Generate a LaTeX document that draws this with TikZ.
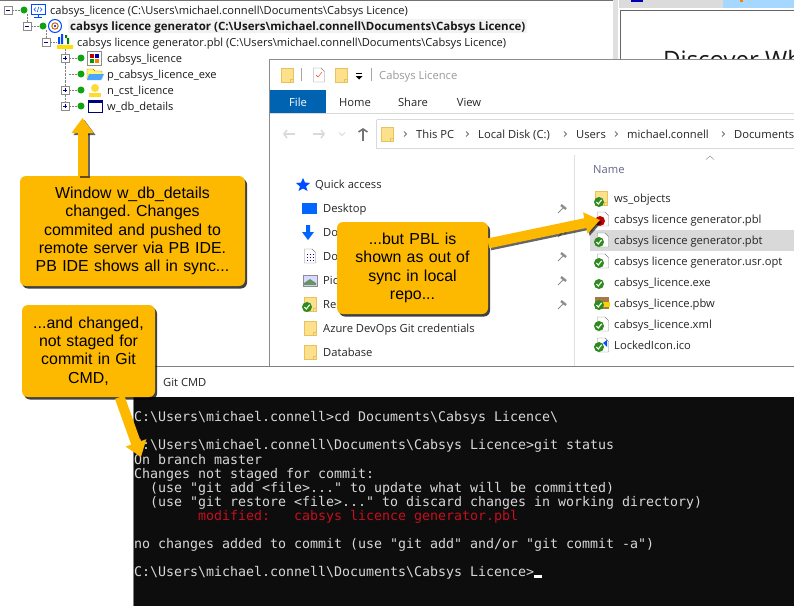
\documentclass[tikz,border=0pt]{standalone}
\usepackage{fontspec}
\setmainfont{Open Sans}
\newfontfamily\calloutfont{Liberation Sans}
\newfontfamily\consolefont{DejaVu Sans Mono}
\usetikzlibrary{arrows.meta,shadows}

\definecolor{calloutfill}{HTML}{FDB900}
\definecolor{treegreen}{HTML}{0FA30F}
\definecolor{folderfill}{HTML}{FCE08C}
\definecolor{folderedge}{HTML}{E8C25C}
\definecolor{ribbonblue}{HTML}{0063B1}
\definecolor{okgreen}{HTML}{2E8B1E}
\definecolor{consoletext}{HTML}{D8D8D8}
\definecolor{consolered}{HTML}{C50F1F}

\tikzset{
 treetext/.style={anchor=base west,inner sep=0pt,yshift=-3.7pt,font=\fontsize{11.1}{12}\selectfont,text=black!90},
 wintext/.style={anchor=base west,inner sep=0pt,yshift=-4.3pt,font=\fontsize{11.2}{13}\selectfont,text=black!85},
 context/.style={anchor=base west,inner sep=0pt,yshift=-4.7pt,font=\consolefont\fontsize{13.29}{14}\selectfont,text=consoletext},
 callout/.style={fill=calloutfill,rounded corners=6pt,align=center,inner sep=0pt,
   font=\calloutfont\frenchspacing\fontsize{15.9}{18.3}\selectfont,
   drop shadow={shadow xshift=2pt,shadow yshift=-2.5pt,fill=black,opacity=0.75}},
 calloutarrow/.style={line width=10pt,color=calloutfill,-{Triangle[width=21pt,length=15pt]}},
 arrowshade/.style={line width=10pt,color=black,opacity=0.6,-{Triangle[width=21pt,length=15pt]},
   transform canvas={xshift=2pt,yshift=-2pt}},
}

% tree and explorer pieces
\newcommand{\treebox}[3]{
 \draw[black!45,fill=white](#1-4,#2-4) rectangle (#1+4,#2+4);
 \draw[blue!50!black](#1-2,#2)--(#1+2,#2);
 \ifnum#3=1 \draw[blue!50!black](#1,#2-2)--(#1,#2+2);\fi
}
\newcommand{\treedot}[2]{
 \draw[black!50,densely dotted](#1-12,#2)--(#1-4,#2);
 \fill[treegreen](#1,#2) circle (3.5);
}
\newcommand{\foldericon}[2]{
 \draw[folderedge,fill=folderfill](#1-6,#2-7) rectangle (#1+6,#2+7);
 \draw[folderedge](#1+3,#2+7)--(#1+3,#2+4)--(#1+6,#2+4);
}
\newcommand{\fileicon}[2]{
 \draw[black!50,fill=white](#1-5.5,#2-7)--(#1+2,#2-7)--(#1+5.5,#2-3.5)--(#1+5.5,#2+7)--(#1-5.5,#2+7)--cycle;
}
\newcommand{\okbadge}[2]{
 \fill[okgreen](#1,#2) circle (5);
 \draw[white,line width=1.1pt](#1-2.5,#2)--(#1-0.7,#2+2)--(#1+2.7,#2-2.2);
}
\newcommand{\pinicon}[2]{
 \draw[black!45,line width=2.4pt](#1-2,#2-3)--(#1+3,#2+1);
 \draw[black!45,line width=1pt](#1,#2)--(#1-5,#2+5);
}
\newcommand{\bs}{\textbackslash}

\begin{document}
\begin{tikzpicture}[x=1pt,y=-1pt]
 \path[use as bounding box,clip](0,0) rectangle (794,606);
 \fill[white](0,0) rectangle (794,606);

 % the start page behind
 \draw[black!55](0,0.5)--(613,0.5);
 \fill[black!12](613,0) rectangle (618,60);
 \fill[black!14](619,0) rectangle (723,8);
 \fill[blue!45!cyan!35!white](723,0) rectangle (794,8);
 \fill[blue!70!black](631,0) rectangle (643,2);
 \fill[orange](740,0) rectangle (743,1.5);
 \draw[black!60,line width=1.5pt](620.5,60)--(620.5,10.5)--(794,10.5);
 \begin{scope}
  \clip(622,12) rectangle (794,59);
  \node[anchor=base west,inner sep=0pt,font=\fontsize{24}{28}\selectfont,text=black!90] (discover) at (663,68) {Discover Wh};
 \end{scope}

 % project tree
 \fill[black!5](68,19) rectangle (527,33);
 \draw[black!50,densely dotted](8,10)--(8,14) (27,14)--(27,26) (46,30)--(46,42) (65,46)--(65,106);
 \treebox{8}{10}{0}
 \treebox{27}{26}{0}
 \treebox{46}{42}{0}
 \treebox{65}{58}{1}
 \treebox{65}{90}{1}
 \treebox{65}{106}{1}
 \treedot{24}{10}
 \treedot{43}{26}
 \treedot{81}{58}
 \treedot{81}{74}
 \treedot{81}{90}
 \treedot{81}{106}
 \draw[black!50,densely dotted](50,42)--(57,42);

 \draw[blue!70!cyan,line width=1pt,fill=white](31,4.5) rectangle (45,14);
 \draw[blue!70!cyan,line width=1pt](34,17)--(42,17) (38,14)--(38,17);
 \draw[blue!70!cyan,line width=0.6pt](36,7.5)--(34,9.5)--(36,11.5) (40,7.5)--(42,9.5)--(40,11.5) (38.7,7)--(37.3,12);
 \draw[blue!70!cyan,line width=1pt,fill=white](55,26) circle (6.5);
 \draw[orange!80!black,line width=1pt](55,26) circle (3.2);
 \fill[blue!70!black](55,26) circle (1.2);
 \fill[blue!70!cyan](58,37) rectangle (60,44) (61,34) rectangle (63,44);
 \fill[green!50!black](65,35) rectangle (67,38) (67,38) rectangle (69,44);
 \fill[yellow!80!orange](57,45) rectangle (73,49);

 \draw[black!45,line width=1pt,fill=white](87.5,51.5) rectangle (101.5,65.5);
 \fill[red!75!black](90,54) rectangle (94,58);
 \fill[blue!70!black](95,54) rectangle (99,58);
 \fill[green!60!black](90,59) rectangle (94,63);
 \fill[orange](95,59) rectangle (99,63);
 \draw[orange!80!black,fill=yellow!60](87,69)--(93,69)--(95,71)--(102,71)--(102,79)--(87,79)--cycle;
 \fill[blue!50!cyan!70!white](89,74)--(104,74)--(101,80)--(87,80)--cycle;
 \fill[yellow!70!orange!80!white](95,88) circle (4);
 \fill[yellow!70!orange!80!white](89,97) rectangle (101,93);
 \draw[blue!50!black,line width=1pt,fill=white](88,100) rectangle (102,112);
 \fill[blue!50!black](88,100) rectangle (102,103);

 \node[treetext] (workspace) at (50,10.5) {cabsys\_licence (C:\bs Users\bs michael.connell\bs Documents\bs Cabsys Licence)};
 \node[treetext,font=\bfseries\fontsize{11.5}{12}\selectfont] (target) at (70,26.5) {cabsys licence generator (C:\bs Users\bs michael.connell\bs Documents\bs Cabsys Licence)};
 \node[treetext] (library) at (77,42.5) {cabsys licence generator.pbl (C:\bs Users\bs michael.connell\bs Documents\bs Cabsys Licence)};
 \node[treetext] (appobj) at (107,58.5) {cabsys\_licence};
 \node[treetext] (projobj) at (107,74.5) {p\_cabsys\_licence\_exe};
 \node[treetext] (cstobj) at (107,90.5) {n\_cst\_licence};
 \node[treetext] (winobj) at (107,106.5) {w\_db\_details};

 % explorer window
 \fill[white](270,59) rectangle (794,366);
 \draw[black!45](269.5,366)--(269.5,59.5)--(794,59.5);
 \foldericon{287}{75}
 \draw[black!35](301.5,68)--(301.5,81);
 \fileicon{319}{75}
 \draw[red!70!orange](316,75)--(318,77)--(322,72);
 \foldericon{341}{75}
 \draw[black,line width=1pt](356,73)--(362,73);
 \fill[black](355.5,76)--(362.5,76)--(359,79.5)--cycle;
 \draw[black!35](371.5,68)--(371.5,81);
 \node[wintext,text=black!40] (wintitle) at (379,75) {Cabsys Licence};
 \fill[ribbonblue](270,90) rectangle (326,113);
 \node[wintext,text=white,anchor=base] (filetab) at (298,102) {File};
 \node[wintext,anchor=base] (hometab) at (355,102) {Home};
 \node[wintext,anchor=base] (sharetab) at (413,102) {Share};
 \node[wintext,anchor=base] (viewtab) at (469,102) {View};
 \draw[black!15](270,113.5)--(794,113.5);
 \draw[black!15,line width=1pt](376.5,119.5)--(794,119.5) (376.5,148.5)--(794,148.5) (376.5,119.5)--(376.5,148.5);
 \draw[black!15,line width=1.5pt,-{Straight Barb[length=3pt,width=8pt]}](295,134)--(283,134);
 \draw[black!15,line width=1.5pt,-{Straight Barb[length=3pt,width=8pt]}](313,134)--(325,134);
 \draw[black!15,line width=1pt](339,132.5)--(342,135.5)--(345,132.5);
 \draw[black!55,line width=1.6pt,-{Straight Barb[length=3pt,width=9pt]}](363,141)--(363,128);
 \foldericon{387}{134}
 \node[wintext] (pathpc) at (416,134) {This PC};
 \node[wintext] (pathdisk) at (478,134) {Local Disk (C:)};
 \node[wintext] (pathusers) at (576,134) {Users};
 \node[wintext] (pathuser) at (627,134) {michael.connell};
 \node[wintext] (pathdocs) at (734,134) {Documents};
 \foreach \px in {404,466,564,615,722}{
  \draw[black!55,line width=1pt](\px,131.5)--(\px+2.5,134)--(\px,136.5);
 }
 \draw[black!12](574.5,155)--(574.5,366);
 \draw[black!50](706,159.5)--(710,156)--(714,159.5);
 \node[wintext,text=blue!25!black!60] (namehead) at (593,169) {Name};

 % navigation pane
 \fill[blue!70!cyan](303,178)--(305,182.5)--(310,183)--(306,186.5)--(307.5,191)--(303,188.5)--(298.5,191)--(300,186.5)--(296,183)--(301,182.5)--cycle;
 \node[wintext] (quick) at (315,184) {Quick access};
 \fill[blue!60!cyan](302,203) rectangle (317,214);
 \node[wintext] (desktop) at (323,208) {Desktop};
 \fill[blue!60!cyan](306,225) rectangle (310,232) (302,232)--(314,232)--(308,240)--cycle;
 \node[wintext] (downloads) at (323,232) {Do};
 \fileicon{310}{256}
 \draw[blue!60!black,dotted,thick](307,254)--(313,254) (307,257)--(313,257) (307,260)--(313,260);
 \node[wintext] (documents) at (323,256) {Do};
 \draw[black!45,fill=blue!15](303,275) rectangle (317,286);
 \fill[green!30!black!60](304,283)--(310,279)--(316,283)--(316,285)--(304,285)--cycle;
 \node[wintext] (pictures) at (323,280) {Pic};
 \foldericon{310}{304}
 \okbadge{307}{307}
 \node[wintext] (repos) at (323,304) {Re};
 \foldericon{310}{328}
 \node[wintext] (azure) at (323,328) {Azure DevOps Git credentials};
 \foldericon{310}{352}
 \node[wintext] (database) at (323,352) {Database};
 \foreach \py in {208,232,256,280,304}{
  \pinicon{563}{\py}
 }

 % file list
 \fill[black!15](590,229.5) rectangle (794,250.5);
 \foldericon{601}{198}
 \okbadge{599}{202}
 \fileicon{603}{219}
 \fill[red!75!black](600,221) circle (5);
 \fileicon{603}{240}
 \okbadge{599}{242}
 \fileicon{603}{261}
 \okbadge{599}{263}
 \okbadge{599}{284}
 \fill[orange!50!black!70](595,297) rectangle (609,309);
 \fill[yellow!70!orange](603,302) rectangle (610,307);
 \okbadge{599}{305}
 \fileicon{603}{324}
 \okbadge{599}{326}
 \fileicon{603}{345}
 \fill[blue!70!cyan](603,343)--(607,340)--(607,347)--cycle;
 \okbadge{599}{347}
 \node[wintext] (fileobjects) at (614,198) {ws\_objects};
 \node[wintext] (filepbl) at (614,219) {cabsys licence generator.pbl};
 \node[wintext] (filepbt) at (614,240) {cabsys licence generator.pbt};
 \node[wintext] (fileopt) at (614,261) {cabsys licence generator.usr.opt};
 \node[wintext] (fileexe) at (614,282) {cabsys\_licence.exe};
 \node[wintext] (filepbw) at (614,303) {cabsys\_licence.pbw};
 \node[wintext] (filexml) at (614,324) {cabsys\_licence.xml};
 \node[wintext] (fileico) at (614,345) {LockedIcon.ico};

 % git cmd window
 \draw[black!50](134,366.5)--(794,366.5);
 \node[wintext] (gittitle) at (163,382) {Git CMD};
 \fill[black!95](134,397) rectangle (794,606);
 \draw[black!50](133.5,367)--(133.5,606);
 \node[context] (line1) at (134,417) {C:\bs Users\bs michael.connell>cd Documents\bs Cabsys Licence\bs};
 \node[context] (line2) at (134,445) {C:\bs Users\bs michael.connell\bs Documents\bs Cabsys Licence>git status};
 \node[context] (line3) at (134,459.5) {On branch master};
 \node[context] (line4) at (134,473.5) {Changes not staged for commit:};
 \node[context] (line5) at (150,487.5) {(use "git add <file>..." to update what will be committed)};
 \node[context] (line6) at (150,501.5) {(use "git restore <file>..." to discard changes in working directory)};
 \node[context,text=consolered] (line7) at (198,515.5) {modified:};
 \node[context,text=consolered] (line7b) at (294,515.5) {cabsys licence generator.pbl};
 \node[context] (line8) at (134,543.5) {no changes added to commit (use "git add" and/or "git commit -a")};
 \node[context] (line9) at (134,571.5) {C:\bs Users\bs michael.connell\bs Documents\bs Cabsys Licence>};
 \fill[white](534,575) rectangle (542,578);

 % callouts
 \node[callout,minimum width=225pt,minimum height=110pt,text width=220pt] (boxide) at (132.5,231) {Window w\_db\_details\\changed. Changes\\commited and pushed to\\remote server via PB IDE.\\PB IDE shows all in sync...};
 \node[callout,minimum width=151pt,minimum height=92pt,text width=147pt] (boxrepo) at (412.5,268) {...but PBL is\\shown as out of\\sync in local\\repo...};
 \node[callout,minimum width=133pt,minimum height=92pt,text width=130pt] (boxcmd) at (88.5,351) {...and changed,\\not staged for\\commit in Git\\CMD,};
 \coordinate (tipide) at (82.5,118);
 \coordinate (tiprepo) at (600,220);
 \coordinate (tipcmd) at (141,457);

 \draw[arrowshade](tipide |- boxide.north)--(tipide);
 \draw[calloutarrow](tipide |- boxide.north)--(tipide);
 \draw[arrowshade](boxrepo.18)--(tiprepo);
 \draw[calloutarrow](boxrepo.18)--(tiprepo);
 \draw[calloutarrow](boxcmd.-56)--(tipcmd);
\end{tikzpicture}
\end{document}
